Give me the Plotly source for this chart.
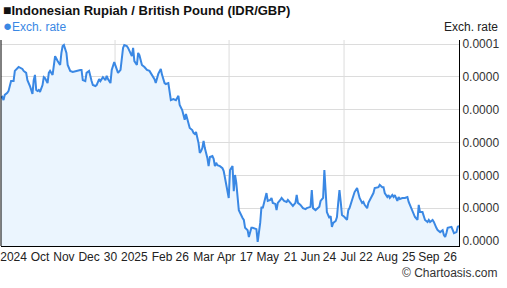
import pandas as pd
import plotly.graph_objects as go

# ---- data ----
start_date = "2024-09-26"
day_offset = [
    0, 1, 2, 3, 5, 6, 8, 10, 11, 13,
    14, 17, 18, 20, 21, 23, 25, 26, 27, 28,
    29, 30, 31, 33, 34, 35, 37, 38, 39, 41,
    42, 43, 45, 46, 47, 48, 49, 50, 52, 53,
    55, 57, 59, 60, 63, 64, 65, 67, 68, 70,
    72, 73, 75, 76, 78, 79, 81, 83, 84, 85,
    87, 88, 90, 91, 93, 95, 96, 97, 98, 100,
    101, 103, 104, 105, 106, 108, 109, 110, 112, 114,
    116, 118, 120, 122, 123, 125, 127, 128, 130, 131,
    133, 134, 135, 137, 139, 141, 142, 144, 145, 146,
    147, 149, 150, 152, 153, 154, 155, 157, 158, 159,
    160, 161, 162, 164, 165, 166, 168, 169, 170, 171,
    172, 174, 176, 177, 178, 180, 181, 182, 184, 185,
    186, 187, 188, 189, 192, 193, 194, 196, 197, 199,
    200, 203, 204, 206, 207, 208, 211, 212, 214, 215,
    216, 218, 219, 220, 222, 223, 225, 227, 228, 230,
    231, 232, 234, 235, 236, 238, 240, 242, 243, 246,
    247, 248, 250, 251, 253, 254, 256, 257, 258, 259,
    261, 262, 263, 264, 266, 267, 268, 269, 270, 271,
    273, 275, 276, 277, 279, 281, 283, 284, 285, 287,
    288, 289, 291, 292, 294, 296, 297, 300, 301, 303,
    304, 305, 307, 308, 309, 311, 312, 313, 315, 316,
    317, 319, 321, 323, 324, 325, 327, 328, 329, 331,
    332, 333, 334, 335, 337, 339, 340, 341, 343, 344,
    346, 347, 349, 351, 352, 353, 354, 355, 358, 359,
    360, 362, 363, 364,
]
rate = [
    4.836e-5, 4.839e-5, 4.829e-5, 4.845e-5, 4.851e-5, 4.857e-5, 4.887e-5, 4.887e-5, 4.918e-5, 4.927e-5,
    4.930e-5, 4.924e-5, 4.918e-5, 4.912e-5, 4.890e-5, 4.872e-5, 4.848e-5, 4.890e-5, 4.906e-5, 4.860e-5,
    4.857e-5, 4.860e-5, 4.854e-5, 4.875e-5, 4.899e-5, 4.896e-5, 4.881e-5, 4.912e-5, 4.918e-5, 4.906e-5,
    4.936e-5, 4.963e-5, 4.948e-5, 4.942e-5, 4.936e-5, 4.973e-5, 4.994e-5, 4.997e-5, 4.973e-5, 4.936e-5,
    4.918e-5, 4.915e-5, 4.918e-5, 4.918e-5, 4.921e-5, 4.921e-5, 4.890e-5, 4.887e-5, 4.912e-5, 4.918e-5,
    4.887e-5, 4.875e-5, 4.872e-5, 4.875e-5, 4.893e-5, 4.887e-5, 4.899e-5, 4.890e-5, 4.903e-5, 4.893e-5,
    4.881e-5, 4.921e-5, 4.945e-5, 4.933e-5, 4.912e-5, 4.921e-5, 4.966e-5, 4.988e-5, 4.997e-5, 4.994e-5,
    4.988e-5, 4.973e-5, 4.963e-5, 4.988e-5, 4.948e-5, 4.936e-5, 4.973e-5, 4.966e-5, 4.936e-5, 4.930e-5,
    4.921e-5, 4.918e-5, 4.906e-5, 4.893e-5, 4.881e-5, 4.909e-5, 4.924e-5, 4.906e-5, 4.881e-5, 4.878e-5,
    4.881e-5, 4.857e-5, 4.829e-5, 4.832e-5, 4.829e-5, 4.842e-5, 4.814e-5, 4.799e-5, 4.781e-5, 4.769e-5,
    4.787e-5, 4.753e-5, 4.744e-5, 4.738e-5, 4.729e-5, 4.726e-5, 4.732e-5, 4.698e-5, 4.668e-5, 4.674e-5,
    4.683e-5, 4.705e-5, 4.683e-5, 4.653e-5, 4.628e-5, 4.656e-5, 4.659e-5, 4.650e-5, 4.628e-5, 4.638e-5,
    4.631e-5, 4.628e-5, 4.622e-5, 4.613e-5, 4.592e-5, 4.561e-5, 4.531e-5, 4.616e-5, 4.628e-5, 4.552e-5,
    4.601e-5, 4.577e-5, 4.525e-5, 4.494e-5, 4.470e-5, 4.464e-5, 4.440e-5, 4.433e-5, 4.412e-5, 4.440e-5,
    4.440e-5, 4.436e-5, 4.397e-5, 4.455e-5, 4.504e-5, 4.500e-5, 4.546e-5, 4.522e-5, 4.525e-5, 4.531e-5,
    4.516e-5, 4.513e-5, 4.494e-5, 4.516e-5, 4.525e-5, 4.531e-5, 4.522e-5, 4.519e-5, 4.525e-5, 4.516e-5,
    4.510e-5, 4.507e-5, 4.516e-5, 4.540e-5, 4.516e-5, 4.510e-5, 4.500e-5, 4.497e-5, 4.500e-5, 4.504e-5,
    4.555e-5, 4.500e-5, 4.494e-5, 4.497e-5, 4.504e-5, 4.522e-5, 4.531e-5, 4.616e-5, 4.555e-5, 4.488e-5,
    4.470e-5, 4.476e-5, 4.443e-5, 4.455e-5, 4.461e-5, 4.473e-5, 4.516e-5, 4.555e-5, 4.519e-5, 4.479e-5,
    4.473e-5, 4.464e-5, 4.494e-5, 4.500e-5, 4.525e-5, 4.549e-5, 4.561e-5, 4.546e-5, 4.531e-5, 4.516e-5,
    4.519e-5, 4.510e-5, 4.500e-5, 4.516e-5, 4.531e-5, 4.546e-5, 4.561e-5, 4.564e-5, 4.571e-5, 4.564e-5,
    4.564e-5, 4.546e-5, 4.534e-5, 4.540e-5, 4.531e-5, 4.540e-5, 4.534e-5, 4.540e-5, 4.522e-5, 4.534e-5,
    4.528e-5, 4.531e-5, 4.531e-5, 4.534e-5, 4.519e-5, 4.510e-5, 4.494e-5, 4.485e-5, 4.473e-5, 4.464e-5,
    4.510e-5, 4.488e-5, 4.488e-5, 4.488e-5, 4.464e-5, 4.458e-5, 4.464e-5, 4.458e-5, 4.464e-5, 4.458e-5,
    4.440e-5, 4.433e-5, 4.427e-5, 4.433e-5, 4.418e-5, 4.412e-5, 4.424e-5, 4.440e-5, 4.443e-5, 4.433e-5,
    4.424e-5, 4.427e-5, 4.443e-5, 4.446e-5,
]
tick_day = [10, 31, 50, 70, 87, 106, 128, 144, 161, 179, 195, 212, 230, 246, 261, 276, 290, 307, 324, 340, 357]
tick_labels = ["2024", "Oct", "Nov", "Dec", "30", "2025", "Feb", "26", "Mar", "Apr", "17",
               "May", "21", "Jun", "24", "Jul", "22", "Aug", "25", "Sep", "26"]
y_ticks = [4.4e-5, 4.5e-5, 4.6e-5, 4.7e-5, 4.8e-5, 4.9e-5, 5.0e-5]
y_tick_labels = ["0.0000", "0.0000", "0.0000", "0.0000", "0.0000", "0.0000", "0.0001"]
series_name = "Exch. rate"
title_text = "Indonesian Rupiah / British Pound (IDR/GBP)"

assert len(day_offset) == len(rate)

start = pd.Timestamp(start_date)
x_dates = [start + pd.Timedelta(days=d) for d in day_offset]
tick_dates = [start + pd.Timedelta(days=d) for d in tick_day]
x_end = start + pd.Timedelta(days=364)

LINE = "#3a88e4"
FILL = "#ebf5fe"
FONT = "Arial, Liberation Sans, sans-serif"

fig = go.Figure()
fig.add_trace(go.Scatter(
    x=x_dates, y=rate, mode="lines", name=series_name,
    line=dict(color=LINE, width=2), fill="tozeroy", fillcolor=FILL,
    showlegend=False,
))

shapes = []
for px in [0.249, 0.498, 0.749]:
    shapes.append(dict(type="line", xref="paper", yref="paper", x0=px, x1=px, y0=0, y1=1,
                       line=dict(color="#dcdcdc", width=1), layer="below"))
shapes.append(dict(type="line", xref="paper", yref="paper", x0=0, x1=0, y0=0, y1=1,
                   line=dict(color="#000000", width=1)))

header = ("<span style='font-size:14px'>■</span><b style='font-size:13px'>" + title_text + "</b><br>"
          "<span style='color:" + LINE + "'><span style='font-size:15px'>●</span>" + series_name + "</span>")

fig.update_layout(
    width=507, height=288,
    margin=dict(l=1, r=48, t=40, b=42),
    paper_bgcolor="white", plot_bgcolor="white",
    font=dict(family=FONT, size=12, color="#222222"),
    shapes=shapes,
    xaxis=dict(
        type="date", range=[start, x_end],
        tickvals=tick_dates, ticktext=tick_labels, tickangle=0,
        showgrid=False, zeroline=False,
        showline=True, linecolor="#000000", linewidth=1,
        ticks="", tickfont=dict(size=12, color="#222222"),
    ),
    yaxis=dict(
        side="right", range=[4.38470e-5, 5.01218e-5],
        tickvals=y_ticks, ticktext=y_tick_labels,
        showgrid=True, gridcolor="#dcdcdc", gridwidth=1, zeroline=False,
        showline=True, linecolor="#000000", linewidth=1,
        ticks="", tickfont=dict(size=12, color="#333333"),
    ),
    annotations=[
        dict(xref="paper", yref="paper", x=0.0, y=1.1092, xanchor="left", yanchor="middle",
             align="left", text=header, showarrow=False,
             font=dict(family=FONT, size=12, color="#111111")),
        dict(xref="paper", yref="paper", x=1.0895, y=1.063, xanchor="right", yanchor="middle",
             text=series_name, showarrow=False,
             font=dict(family=FONT, size=12, color="#222222")),
        dict(xref="paper", yref="paper", x=1.0895, y=-0.131, xanchor="right", yanchor="middle",
             text="© Chartoasis.com", showarrow=False,
             font=dict(family=FONT, size=12, color="#333333")),
    ],
)

fig.write_html("out.html")
